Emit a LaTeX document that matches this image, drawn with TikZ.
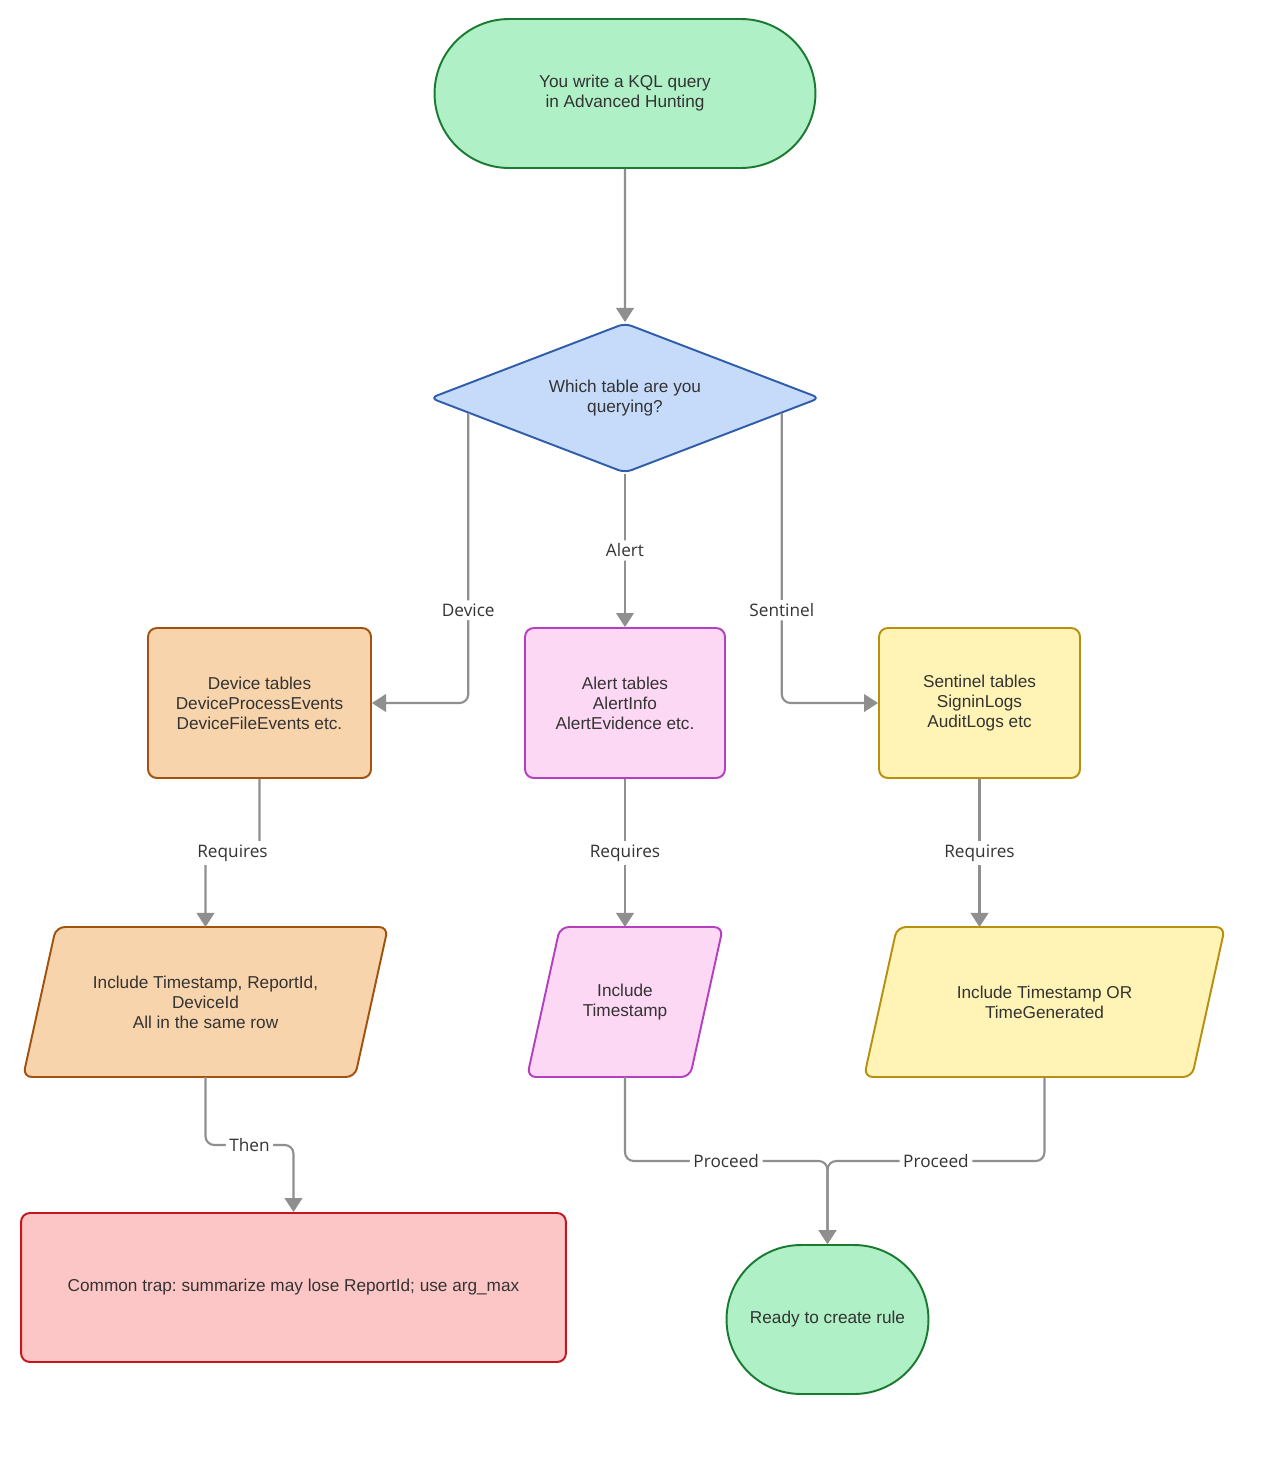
\documentclass[tikz,border=0pt]{standalone}
\usepackage{fontspec}
\setmainfont{Liberation Sans}
\newfontfamily\edgefont{Open Sans}
\usepackage{xcolor}
\definecolor{kqlgreen}{HTML}{AFF0C6}
\definecolor{kqlgreenline}{HTML}{1B7A32}
\definecolor{kqlblue}{HTML}{C6DBFA}
\definecolor{kqlblueline}{HTML}{2F5DAA}
\definecolor{kqlorange}{HTML}{F8D4AC}
\definecolor{kqlorangeline}{HTML}{A0520F}
\definecolor{kqlpink}{HTML}{FDD8F4}
\definecolor{kqlpinkline}{HTML}{B440C0}
\definecolor{kqlyellow}{HTML}{FFF4B5}
\definecolor{kqlyellowline}{HTML}{B8900F}
\definecolor{kqlred}{HTML}{FDC6C6}
\definecolor{kqlredline}{HTML}{C4161C}
\definecolor{kqlgray}{HTML}{8F8F8F}
\definecolor{kqltext}{HTML}{333333}
\usetikzlibrary{arrows.meta, shapes.geometric, shapes.misc, calc, backgrounds}
\frenchspacing

\begin{document}
\begin{tikzpicture}[x=0.02cm, y=-0.02cm,
    >={Triangle[length=8pt, width=10pt]},
    box/.style={draw, line width=1.1pt, text=kqltext, align=center,
        font=\fontsize{9.8}{11.34}\selectfont, inner sep=2pt},
    terminal/.style={box, rounded rectangle, fill=kqlgreen, draw=kqlgreenline,
        minimum height=2.98cm},
    choice/.style={box, diamond, aspect=2.59, fill=kqlblue, draw=kqlblueline,
        minimum width=7.8cm, minimum height=3cm, rounded corners=4pt},
    tables/.style={box, rectangle, rounded corners=5pt, minimum height=3cm},
    needs/.style={rectangle, text=kqltext, align=center, outer sep=0pt,
        font=\fontsize{9.8}{11.34}\selectfont, minimum height=3cm},
    slant/.style={line width=1.1pt, rounded corners=5pt},
    flow/.style={->, line width=1.2pt, draw=kqlgray, rounded corners=5pt},
    elabel/.style={fill=white, text=kqltext, inner sep=2pt,
        font=\edgefont\fontsize{9.8}{11.34}\selectfont}]

% === Lienzo ===
\begin{pgfonlayer}{background}
\fill[white] (0,0) rectangle (1266,1458);
\end{pgfonlayer}
\path[use as bounding box] (0,0) rectangle (1266,1458);

% === Inicio y decision ===
\node[terminal, minimum width=7.76cm] (query) at (625,93.5)
    {You write a KQL query\\in Advanced Hunting};
\node[choice] (which) at (625,398) {Which table are you\\querying?};

% === Tablas ===
\node[tables, fill=kqlorange, draw=kqlorangeline, minimum width=4.46cm]
    (devtab) at (259.5,703)
    {Device tables\\DeviceProcessEvents\\DeviceFileEvents etc.};
\node[tables, fill=kqlpink, draw=kqlpinkline, minimum width=4cm]
    (alerttab) at (625,703)
    {Alert tables\\AlertInfo\\AlertEvidence etc.};
\node[tables, fill=kqlyellow, draw=kqlyellowline, minimum width=4.02cm]
    (senttab) at (979.5,703)
    {Sentinel tables\\SigninLogs\\AuditLogs etc};

% === Requisitos (paralelogramos) ===
\node[needs, minimum width=7.3cm] (devneed) at (205.5,1002)
    {Include Timestamp, ReportId,\\DeviceId\\All in the same row};
\node[needs, minimum width=3.92cm] (alertneed) at (625,1002)
    {Include\\Timestamp};
\node[needs, minimum width=7.22cm] (sentneed) at (1044.5,1002)
    {Include Timestamp OR\\TimeGenerated};

\begin{pgfonlayer}{background}
\foreach \n/\c in {devneed/kqlorange, alertneed/kqlpink, sentneed/kqlyellow}
    \draw[slant, fill=\c, draw=\c line]
        (\n.south west) -- ($(\n.south east)+(-33,0)$)
        -- (\n.north east) -- ($(\n.north west)+(33,0)$) -- cycle;
\end{pgfonlayer}

% === Final ===
\node[box, fill=kqlred, draw=kqlredline, rounded corners=5pt,
    minimum width=10.9cm, minimum height=2.98cm] (trap) at (293.5,1287.5)
    {Common trap: summarize may lose ReportId; use arg\_max};
\node[terminal, minimum width=4.18cm] (ready) at (827.5,1319.5)
    {Ready to create rule};

% === Conexiones ===
\draw[flow] (query) -- (which);
\draw[flow] ($(which.west)!0.2!(which.south)$) |-
    node[elabel, pos=0.34] {Device} (devtab.east);
\draw[flow] (which) -- node[elabel] {Alert} (alerttab);
\draw[flow] ($(which.east)!0.2!(which.south)$) |-
    node[elabel, pos=0.34] {Sentinel} (senttab.west);

\draw[flow] (devtab.south) -- (devtab.south |- 0,853)
    -- node[elabel] {Requires} (devneed.north |- 0,853) -- (devneed.north);
\draw[flow] (alerttab) -- node[elabel] {Requires} (alertneed.north);
\draw[flow] (senttab.south) -- node[elabel] {Requires}
    (senttab.south |- sentneed.north);

\draw[flow] (devneed.south) -- (devneed.south |- 0,1145)
    -- node[elabel] {Then} (trap.north |- 0,1145) -- (trap.north);
\draw[flow] (alertneed.south) -- (alertneed.south |- 0,1161)
    -- node[elabel] {Proceed} (ready.north |- 0,1161) -- (ready.north);
\draw[flow] (sentneed.south) -- (sentneed.south |- 0,1161)
    -- node[elabel] {Proceed} (ready.north |- 0,1161) -- (ready.north);

\end{tikzpicture}
\end{document}
